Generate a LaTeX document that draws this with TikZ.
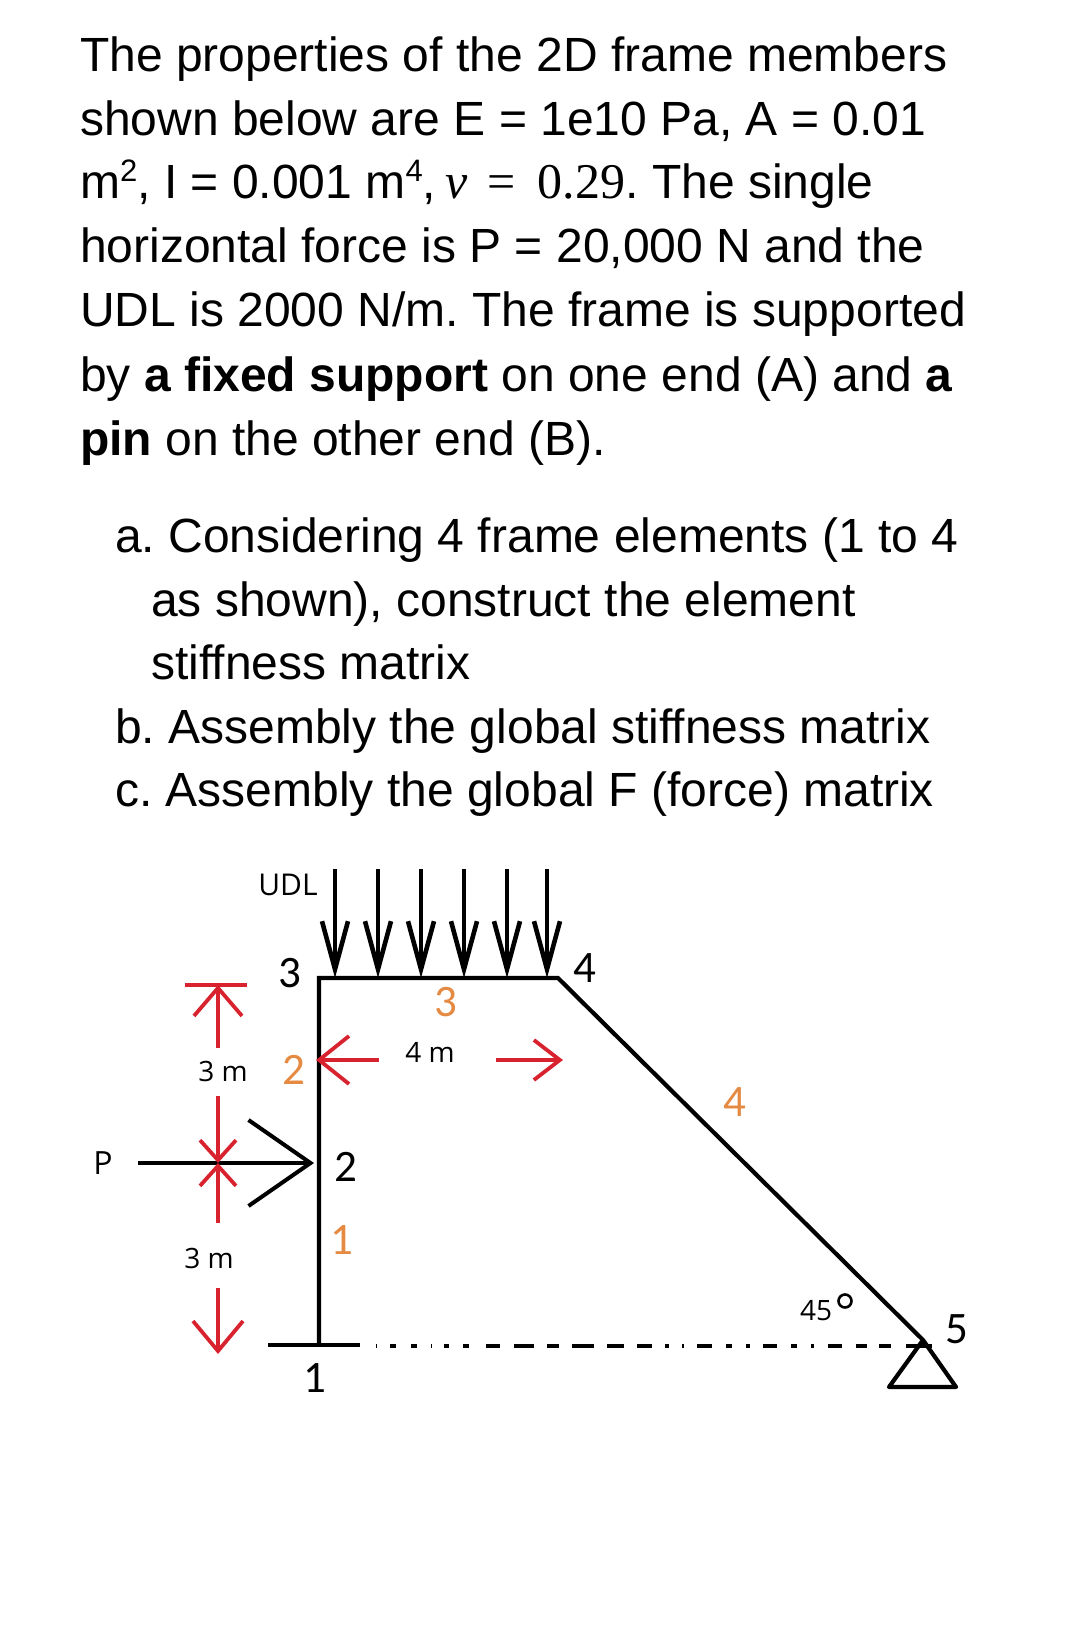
\documentclass[tikz,border=0pt]{standalone}
\usepackage{fontspec}
\usepackage{xcolor}
\usetikzlibrary{arrows.meta}
\setmainfont{Liberation Sans}
\newfontfamily\labelfont{Carlito}
\newfontfamily\dimfont{Open Sans}
\newfontfamily\greekfont{Liberation Serif}
\definecolor{dimred}{HTML}{D8232F}
\definecolor{elemorange}{HTML}{E58A42}
\newcommand{\supnum}[1]{\raisebox{17pt}{\fontsize{31}{31}\selectfont #1}}
\frenchspacing
\tikzset{
    body/.style={anchor=base west, inner sep=0pt, font=\fontsize{48}{48}\selectfont},
    member/.style={draw=black, line width=4.2pt, line join=miter},
    nodenum/.style={inner sep=0pt, font=\labelfont\fontsize{45}{45}\selectfont},
    elemnum/.style={nodenum, text=elemorange},
    dimtext/.style={inner sep=0pt, font=\dimfont\fontsize{28}{28}\selectfont},
    dimline/.style={draw=dimred, line width=3.8pt},
    udlarrow/.style={draw=black, line width=3.6pt, -{Straight Barb[length=48pt, width=26pt, line width=4.6pt]}},
}
\begin{document}
\begin{tikzpicture}[x=1pt, y=-1pt]
            \useasboundingbox (0,0) rectangle (1080,1632);

            \begin{scope}[every node/.style={body}]
                \node (para1) at (80,72) {The properties of the 2D frame members};
                \node (para2) at (80,136) {shown below are E = 1e10 Pa, A = 0.01};
                \node (para3) at (80,198) {m\supnum{2}, I = 0.001 m\supnum{4}, \hspace{-4pt}{\greekfont\fontsize{50}{50}\selectfont\itshape ν\hspace{20pt}\upshape=\hspace{22pt}0.29}. The single};
                \node (para4) at (80,262) {horizontal force is P = 20,000 N and the};
                \node (para5) at (80,326) {UDL is 2000 N/m. The frame is supported};
                \node (para6) at (80,391) {by \textbf{a fixed support} on one end (A) and \textbf{a}};
                \node (para7) at (80,455) {\textbf{pin} on the other end (B).};
                \node (itema) at (115,552) {a. Considering 4 frame elements (1 to 4};
                \node (itema2) at (151,616) {as shown), construct the element};
                \node (itema3) at (151,679) {stiffness matrix};
                \node (itemb) at (115,743) {b. Assembly the global stiffness matrix};
                \node (itemc) at (115,806) {c. Assembly the global F (force) matrix};
            \end{scope}

            % frame joints
            \coordinate (n1) at (319,1345);
            \coordinate (n2) at (319,1163);
            \coordinate (n3) at (319,978);
            \coordinate (n4) at (558,978);
            \coordinate (n5) at (923,1340);
            \coordinate (baseL) at (268,1345);
            \coordinate (baseR) at (360,1345);
            \coordinate (dashL) at (376,1346);
            \coordinate (dashR) at (934,1346);
            \coordinate (pinL) at (889,1387);
            \coordinate (pinR) at (956,1387);

            \draw[line width=3.8pt, dash pattern=on 1pt off 13pt on 6pt off 15pt on 6pt off 14pt on 1pt off 12pt on 5pt off 14pt on 6pt off 17pt on 14pt off 14pt on 20pt off 13pt on 12pt off 13pt on 22pt off 13pt on 17pt off 13pt on 15pt off 13pt on 4pt off 13pt on 2pt off 13pt on 15pt off 14pt on 6pt off 14pt on 4pt off 13pt on 14pt off 14pt on 6pt off 14pt on 3pt off 14pt on 14pt off 14pt on 11pt off 12pt on 12pt off 15pt on 26pt off 100pt] (dashL) -- (dashR);
            \draw[member] (n1) -- (n3) -- (n4) -- (n5);
            \draw[member] (baseL) -- (baseR);
            \draw[member, line join=round] (n5) -- (pinR) -- (pinL) -- cycle;

            % udl
            \foreach \name/\xpos in {a/335,b/378,c/421,d/464,e/507,f/547} {
                \coordinate (udl\name) at (\xpos,869);
                \coordinate (udlend\name) at (\xpos,978);
                \draw[udlarrow] (udl\name) -- (udlend\name);
            }

            % point load
            \coordinate (load) at (138,1163);
            \draw[draw=black, line width=4pt, shorten >=5pt, -{Straight Barb[length=62pt, width=86pt, line width=4pt]}] (load) -- (n2);

            % dimensions
            \begin{scope}[every path/.style={dimline}]
                \coordinate (capL) at (185,985);
                \coordinate (capR) at (247,985);
                \coordinate (capM) at (218,985);
                \coordinate (upS) at (218,1048);
                \coordinate (midS) at (218,1096);
                \coordinate (midE) at (218,1163);
                \coordinate (lowS) at (218,1223);
                \coordinate (botS) at (218,1288);
                \coordinate (botE) at (218,1354);
                \coordinate (leftS) at (379,1060);
                \coordinate (leftE) at (316,1060);
                \coordinate (rightS) at (496,1060);
                \coordinate (rightE) at (563,1060);

                \path (capL) -- (capR);
                \path[-{Straight Barb[length=28pt, width=48pt, line width=3.8pt]}] (upS) -- (capM);
                \path[-{Straight Barb[length=20pt, width=36pt, line width=3.8pt]}] (midS) -- (midE);
                \path[-{Straight Barb[length=20pt, width=36pt, line width=3.8pt]}] (lowS) -- (midE);
                \path[-{Straight Barb[length=30pt, width=50pt, line width=3.8pt]}] (botS) -- (botE);
                \path[-{Straight Barb[length=30pt, width=48pt, line width=3.8pt]}] (leftS) -- (leftE);
                \path[-{Straight Barb[length=26pt, width=40pt, line width=3.8pt]}] (rightS) -- (rightE);
            \end{scope}

            % labels
            \node[dimtext, font=\dimfont\fontsize{30}{30}\selectfont] (udl) at (288,885) {UDL};
            \node[nodenum] (lab3) at (290,973) {3};
            \node[nodenum] (lab4) at (585,968) {4};
            \node[nodenum] (lab2) at (346,1167) {2};
            \node[nodenum] (lab1) at (315,1378) {1};
            \node[nodenum] (lab5) at (957,1329) {5};
            \node[elemnum] (el1) at (342,1240) {1};
            \node[elemnum] (el2) at (294,1070) {2};
            \node[elemnum] (el3) at (446,1002) {3};
            \node[elemnum] (el4) at (735,1102) {4};
            \node[dimtext] (dim4) at (430,1052) {4 m};
            \node[dimtext] (dimup) at (223,1071) {3 m};
            \node[dimtext] (dimlow) at (209,1258) {3 m};
            \node[dimtext, font=\dimfont\fontsize{32}{32}\selectfont] (pload) at (103,1163) {P};
            \node[dimtext] (angle) at (816,1311) {45};
            \node[draw=black, circle, line width=2.6pt, minimum size=13pt, inner sep=0pt] (deg) at (845,1301) {};

            \end{tikzpicture}
\end{document}
